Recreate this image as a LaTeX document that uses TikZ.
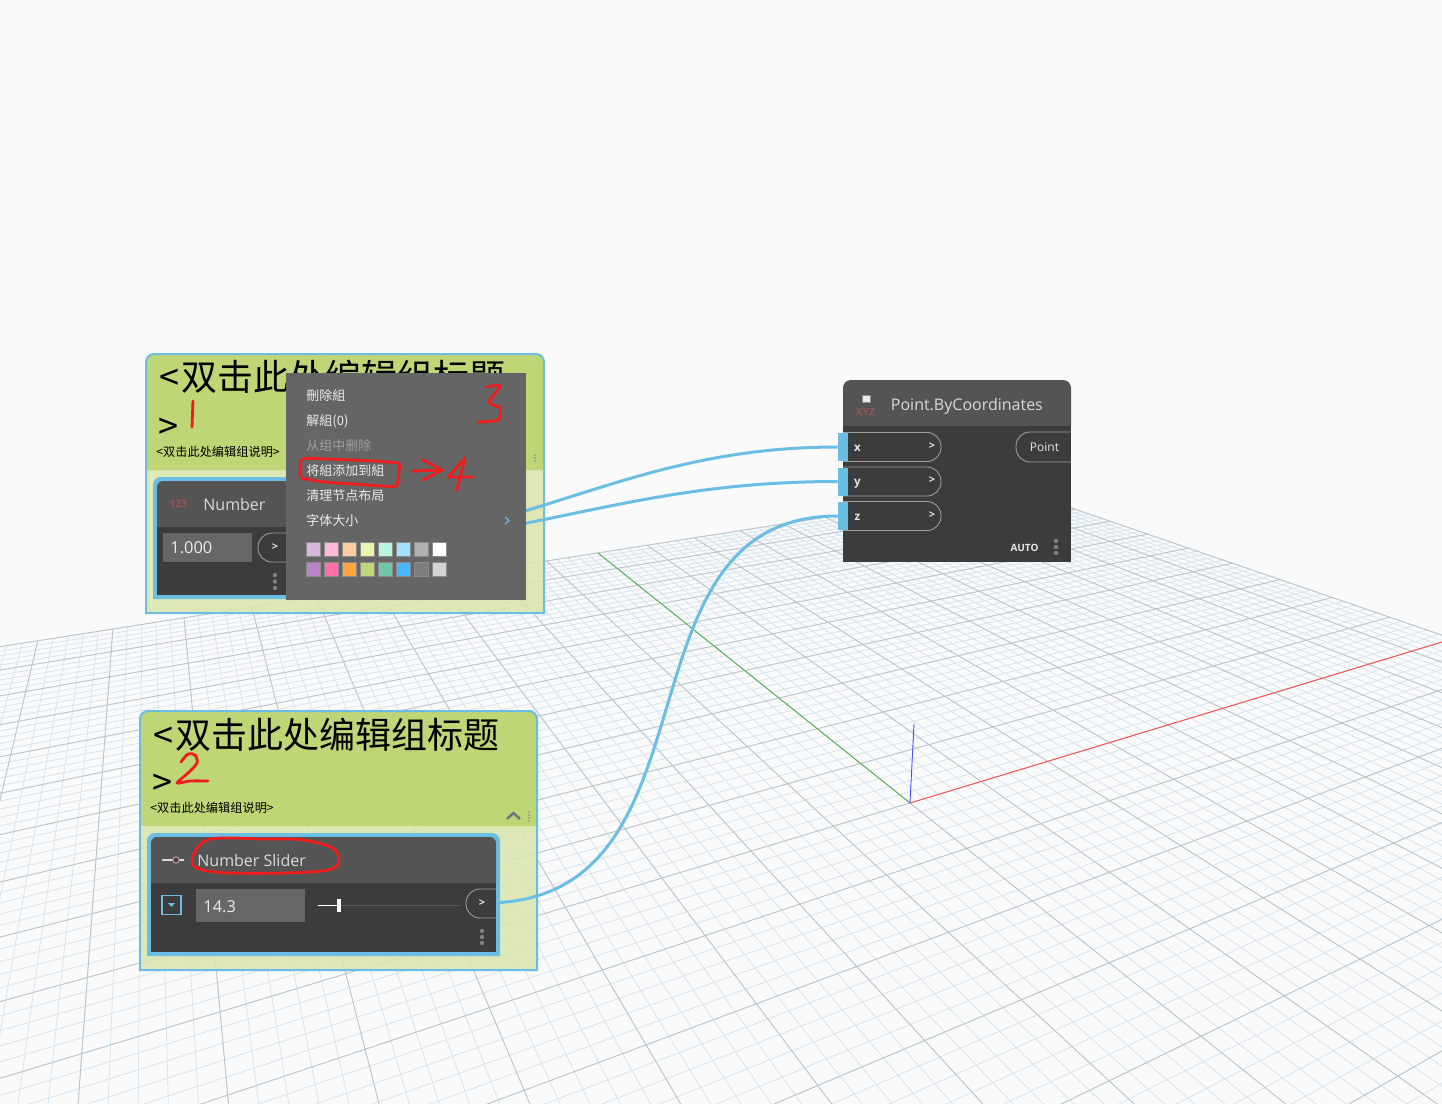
\documentclass[tikz,border=0pt]{standalone}
\usepackage{fontspec}
\setmainfont{Open Sans}
\newfontfamily\cjk{Noto Sans CJK SC}
\usetikzlibrary{backgrounds}
\definecolor{paper}{HTML}{FAFAFA}
\definecolor{wireblue}{HTML}{6BBDE3}
\definecolor{titlegreen}{HTML}{BFD676}
\definecolor{bodygreen}{HTML}{D9E6AB}
\definecolor{headgray}{HTML}{545454}
\definecolor{bodygray}{HTML}{3C3C3C}
\definecolor{boxgray}{HTML}{666666}
\definecolor{menugray}{HTML}{656565}
\definecolor{iconred}{HTML}{9A5555}
\definecolor{pen}{HTML}{EE1C1C}
\definecolor{minorcol}{HTML}{D6E4EF}
\definecolor{majorcol}{HTML}{B8C3CA}
\tikzset{
  txt/.style={inner sep=0pt,anchor=base west},
  grouptitle/.style={txt,text=black,font=\cjk\fontsize{18}{18}\selectfont},
  groupnote/.style={txt,text=black,font=\cjk\fontsize{6.1}{6.1}\selectfont},
  headtxt/.style={txt,text=black!15,font=\fontsize{8}{8}\selectfont},
  valuetxt/.style={txt,text=white!92!black,font=\fontsize{8.2}{8.2}\selectfont},
  menuitem/.style={txt,text=white!92!black,font=\cjk\fontsize{6.5}{6.5}\selectfont},
  porttxt/.style={inner sep=0pt,text=white!90!black,font=\fontsize{5.5}{5.5}\selectfont\bfseries},
  pill/.style={draw=white!62!black,line width=.45pt},
  inbar/.style={fill=wireblue,inner sep=0pt,minimum width=5pt,minimum height=14pt},
  swatch/.style={draw=white!55!black,line width=.3pt,inner sep=0pt,minimum size=7pt},
  wire/.style={draw=wireblue,line width=1.5pt},
  redpen/.style={draw=pen,line width=1.4pt,line cap=round,line join=round},
  grip/.style={fill=white!50!black},
  minorline/.style={draw=minorcol,line width=.4pt},
  majorline/.style={draw=majorcol,line width=.4pt}
}
\begin{document}
\begin{tikzpicture}[x=0.5pt,y=-0.5pt,
  declare function={gridw(\u,\v)=1+0.007184*\u+0.013775*\v;
    gridx(\u,\v)=(910+21.293*\u+1.997*\v)/gridw(\u,\v);
    gridy(\u,\v)=(803+1.3075*\u+2.617*\v)/gridw(\u,\v);}]
\useasboundingbox (0,0) rectangle (1442,1104);
%number node
\fill[wireblue,rounded corners=4pt] (153,599) -- (153,477) -- (300,477) -- (300,599) [sharp corners] -- cycle;
\fill[headgray,rounded corners=3pt] (157,527) -- (157,481) -- (300,481) [sharp corners] -- (300,527) -- cycle;
\fill[bodygray] (157,527) rectangle (300,595);
\node[txt,text=iconred,font=\fontsize{5.2}{5.2}\selectfont\bfseries] (numicon) at (169,507) {123};
\node[headtxt] (numtitle) at (203,510) {Number};
\node[fill=boxgray,inner sep=0pt,minimum width=44.5pt,minimum height=14.5pt] (numbox) at (207,547.5) {};
\node[valuetxt] (numvalue) at (170,553) {1.000};
\draw[pill] (296,533) [rounded corners=7pt] -- (258,533) -- (258,562) [sharp corners] -- (296,562);
\node[porttxt] (numout) at (275,547) {>};
\coordinate (numwire) at (302,547);
\foreach \yy in {575,581.5,588} \fill[grip] (275,\yy) circle (1.1pt);
%slider node
\fill[wireblue,rounded corners=4pt] (147,956) -- (147,833) -- (500,833) [sharp corners] -- (500,956) -- cycle;
\fill[headgray,rounded corners=3pt] (151,883) -- (151,837) -- (496,837) [sharp corners] -- (496,883) -- cycle;
\fill[bodygray] (151,883) rectangle (496,952);
\draw[white!85!black,line width=.8pt] (162,860) -- (184,860);
\fill[iconred!60!black,draw=white!70!black,line width=.4pt] (176,860) circle (1.6pt);
\node[headtxt] (slidertitle) at (197,866) {Number Slider};
\node[draw=wireblue,line width=.7pt,inner sep=0pt,minimum size=9.5pt] (dropbox) at (171.5,905) {};
\fill[wireblue] (168,903) -- (175,903) -- (171.5,907) -- cycle;
\node[fill=boxgray,inner sep=0pt,minimum width=54.5pt,minimum height=16.5pt] (sliderbox) at (250.5,905.5) {};
\node[valuetxt] (slidervalue) at (203,912) {14.3};
\draw[white!35!black,line width=.7pt] (339,905.5) -- (460,905.5);
\draw[white,line width=.9pt] (318,905.5) -- (339,905.5);
\draw[white,line width=1.8pt] (339,899) -- (339,912);
\draw[pill] (496,889) [rounded corners=7pt] -- (466,889) -- (466,918) [sharp corners] -- (496,918);
\node[porttxt] (sliderout) at (482,903) {>};
\foreach \yy in {931,937,943} \fill[grip] (482,\yy) circle (1.1pt);
%point node
\fill[headgray,rounded corners=4pt] (843,426) -- (843,380) -- (1071,380) [sharp corners] -- (1071,426) -- cycle;
\fill[bodygray] (843,426) rectangle (1071,562);
\node[draw=white!55!black,fill=white!92!black,line width=.5pt,inner sep=0pt,minimum size=3.6pt] (xyzsquare) at (866.5,399) {};
\node[inner sep=0pt,text=iconred,font=\fontsize{5}{5}\selectfont\bfseries] (xyzicon) at (865.5,412) {XYZ};
\node[headtxt] (pointtitle) at (890.5,410) {Point.ByCoordinates};
\foreach \n/\lab/\yy in {x/x/447,y/y/481.5,z/z/516}{
  \draw[pill] (843,\yy-14.5) [rounded corners=7pt] -- (941,\yy-14.5) -- (941,\yy+14.5) [sharp corners] -- (843,\yy+14.5);
  \node[inbar] (in\n) at (843,\yy) {};
  \node[porttxt,anchor=base,font=\fontsize{5.8}{5.8}\selectfont\bfseries] (lab\n) at (857.5,\yy+4) {\lab};
  \node[porttxt] (arrow\n) at (932,\yy-1) {>};
}
\draw[pill] (1071,432) [rounded corners=7pt] -- (1016,432) -- (1016,462) [sharp corners] -- (1071,462);
\node[porttxt,font=\fontsize{6}{6}\selectfont] (pointout) at (1044.5,447) {Point};
\node[porttxt,font=\fontsize{5}{5}\selectfont\bfseries] (autolab) at (1024.5,548) {AUTO};
\foreach \yy in {541,547,553} \fill[grip] (1056,\yy) circle (1.1pt);
%menu
\fill[menugray] (286,373) rectangle (526,600);
\foreach \n/\lab/\yy in {del/刪除組/400,ungroup/解組(0)/425,addto/将組添加到組/475,tidy/清理节点布局/500,size/字体大小/525}
  \node[menuitem] (item\n) at (306,\yy) {\lab};
\node[menuitem,text=white!62!black] (itemremove) at (306,450) {从组中删除};
\draw[wireblue,line width=.6pt] (505,517) -- (509,520.5) -- (505,524);
\foreach \hx/\xx in {D5B8DC/313,FFB8D8/331,FFCBA0/349,E8F5AD/367,B8F5DC/385,A4E0FF/403,B0B0B0/421,FFFFFF/439}{
  \definecolor{swcol}{HTML}{\hx}
  \node[swatch,fill=swcol] (top\xx) at (\xx,549.5) {};
}
\foreach \hx/\xx in {B784C6/313,FF70A8/331,FFA540/349,C0D678/367,70C6A5/385,48B5FF/403,7D7D7D/421,D4D4D4/439}{
  \definecolor{swcol}{HTML}{\hx}
  \node[swatch,fill=swcol] (low\xx) at (\xx,569.5) {};
}
%annotazioni
\draw[redpen] (193,401) -- (192,427);
\draw[redpen] plot[smooth] coordinates {(181,762) (188,754) (195,755) (197,763) (188,773) (177,783) (190,781) (208,781)};
\draw[redpen] plot[smooth,tension=.4] coordinates {(486,387) (500,386) (489,402) (500,408) (498,420) (478,422)};
\draw[redpen] (465,458) -- (448,477) -- (473,477);
\draw[redpen] (465,458) -- (457,490);
\draw[redpen] (412,471) -- (442,470);
\draw[redpen] (423,460) -- (442,470) -- (423,480);
\draw[redpen,rounded corners=1.5pt] (305,458) -- (300,460) -- (300,478) -- (323,482) -- (397,487) -- (400,463) -- (373,461) -- cycle;
\draw[redpen] plot[smooth cycle,tension=.55] coordinates {(207,840) (193,865) (230,873) (328,870) (335,850) (303,840) (263,839)};
\begin{pgfonlayer}{background}
%fondo
\fill[paper] (0,0) rectangle (1442,1104);
\begin{scope}
\clip (0,0) rectangle (1442,1104);
%griglia
\foreach \i in {-50,...,50}{
  \draw[minorline] ({gridx(\i,-30)},{gridy(\i,-30)}) -- ({gridx(\i,50)},{gridy(\i,50)});
}
\foreach \j in {-30,...,50}{
  \draw[minorline] ({gridx(-50,\j)},{gridy(-50,\j)}) -- ({gridx(50,\j)},{gridy(50,\j)});
}
\foreach \i in {-50,-45,...,50}{
  \draw[majorline] ({gridx(\i,-30)},{gridy(\i,-30)}) -- ({gridx(\i,50)},{gridy(\i,50)});
}
\foreach \j in {-30,-25,...,50}{
  \draw[majorline] ({gridx(-50,\j)},{gridy(-50,\j)}) -- ({gridx(50,\j)},{gridy(50,\j)});
}
%assi
\draw[green!55!black!70,line width=.4pt] (910,803) -- (598,553);
\draw[red!70,line width=.45pt] (910,803) -- (1442,642);
\draw[blue!70,line width=.45pt] (910,803) -- (914,724);
\end{scope}
%gruppo 1
\fill[bodygreen,fill opacity=.85] (146,470) rectangle (544,613);
\fill[titlegreen,rounded corners=4pt] (146,470) -- (146,354) -- (544,354) [sharp corners] -- (544,470) -- cycle;
\draw[wireblue,line width=1pt,rounded corners=4pt] (146,613) -- (146,354) -- (544,354) [sharp corners] -- (544,613) -- cycle;
\node[grouptitle] (title1a) at (159,390) {<\kern1.2pt 双击此处编辑组标题};
\node[grouptitle] (title1b) at (158,439) {>};
\node[groupnote] (note1) at (156,456) {<双击此处编辑组说明>};
\foreach \yy in {455,458,461} \fill[grip] (535,\yy) circle (.4pt);
%gruppo 2
\fill[bodygreen,fill opacity=.85] (140,826) rectangle (537,970);
\fill[titlegreen,rounded corners=4pt] (140,826) -- (140,711) -- (537,711) [sharp corners] -- (537,826) -- cycle;
\draw[wireblue,line width=1pt,rounded corners=4pt] (140,970) -- (140,711) -- (537,711) [sharp corners] -- (537,970) -- cycle;
\node[grouptitle] (title2a) at (153,748) {<\kern1.2pt 双击此处编辑组标题};
\node[grouptitle] (title2b) at (152,795) {>};
\node[groupnote] (note2) at (150,812.5) {<双击此处编辑组说明>};
\draw[white!45!black,line width=1.2pt] (507,819) -- (513.5,813) -- (520,819);
\foreach \yy in {812,815,818,821} \fill[grip] (529,\yy) circle (.4pt);
%fili
\draw[wire] (numwire) .. controls +(220,0) and +(-220,0) .. (inx.west);
\draw[wire] (numwire) .. controls +(220,0) and +(-220,0) .. (iny.west);
\draw[wire] (sliderout.east) .. controls +(242,0) and +(-230,0) .. (inz.west);
\end{pgfonlayer}
\end{tikzpicture}
\end{document}
